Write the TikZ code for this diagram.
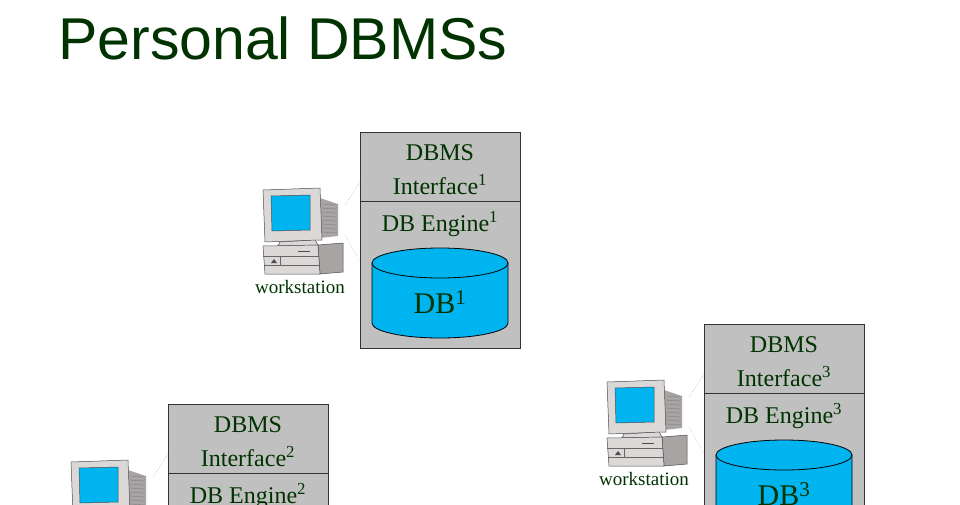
\documentclass[tikz,border=0pt]{standalone}
\usepackage{fontspec}
\setmainfont{Liberation Serif}
\newfontfamily\titlefont{Liberation Sans}
\definecolor{tgreen}{HTML}{003300}
\definecolor{boxgray}{HTML}{C0C0C0}
\definecolor{dbcyan}{HTML}{00B4F0}
\definecolor{pcbody}{HTML}{DCD8D8}
\definecolor{pcshade}{HTML}{A8A4A4}
\tikzset{
  box/.style={draw=black!80, fill=boxgray, line width=0.8pt},
  lbl/.style={text=tgreen, font=\fontsize{24}{26}\selectfont, inner sep=0pt},
  dblbl/.style={text=tgreen, font=\fontsize{30}{32}\selectfont, inner sep=0pt},
  wslbl/.style={text=tgreen, font=\fontsize{19}{21}\selectfont, inner sep=0pt},
  cyl/.style={draw=black, fill=dbcyan, line width=0.8pt},
  link/.style={draw=gray!70, dotted, line width=0.6pt},
  pc/.style={draw=black!70, line width=0.5pt, fill=pcbody},
}
\newcommand\mysite[3]{%
\begin{scope}[shift={(#2,#3)}]
  \node[box, minimum width=160pt, minimum height=216pt, anchor=north west, inner sep=0pt] (box#1) at (0,0) {};
  \draw[black!80, line width=0.8pt] (0,69) -- (160,69);
  \node[lbl] (dbms#1) at (80,21) {DBMS};
  \node[lbl] (intf#1) at (80,53) {Interface\textsuperscript{#1}};
  \node[lbl] (eng#1) at (80,92) {DB Engine\textsuperscript{#1}};
  \path[cyl] (148,131) -- (148,191) arc[start angle=0,end angle=-180,x radius=68pt,y radius=15pt] -- (12,131) -- cycle;
  \path[cyl] (80,131) ellipse [x radius=68pt, y radius=15pt];
  \node[dblbl] (db#1) at (80,170) {DB\textsuperscript{#1}};
  % workstation
  \fill[pcshade] (-40,66) -- (-22,72) -- (-22,104) -- (-40,106) -- cycle;
  \foreach \yy in {72,76,...,102} \draw[black!50, line width=0.4pt] (-38,\yy) -- (-23,\yy+1);
  \path[pc] (-97,58) -- (-40,56) -- (-38,108) -- (-95,110) -- cycle;
  \path[draw=black!70, fill=dbcyan, line width=0.5pt] (-89,64) -- (-50,63) -- (-50,98) -- (-88,99) -- cycle;
  \path[pc] (-80,110) -- (-45,108) -- (-42,113) -- (-82,114) -- cycle;
  \path[pc, fill=pcshade] (-42,113) -- (-17,111) -- (-17,140) -- (-40,142) -- cycle;
  \path[pc] (-97,114) -- (-42,113) -- (-40,142) -- (-95,142) -- cycle;
  \draw[black!60, line width=0.4pt] (-97,124) -- (-41,124) (-96,133) -- (-40,133) (-80,124) -- (-80,133);
  \fill[black!70] (-89,131) -- (-86,127) -- (-83,131) -- cycle;
  \draw[black!70, line width=0.8pt] (-62,119) -- (-50,119);
  \node[wslbl] (ws#1) at (-60,155) {workstation};
  \coordinate (wa#1) at (-15,73);
  \coordinate (wb#1) at (-15,103);
  \coordinate (ba#1) at (0,50);
  \coordinate (bb#1) at (0,130);
  \draw[link] (ba#1) -- (wa#1);
  \draw[link] (wb#1) -- (bb#1);
\end{scope}}
\begin{document}
\begin{tikzpicture}[x=1pt,y=-1pt]
\useasboundingbox (0,0) rectangle (960,504);
\fill[white] (0,0) rectangle (960,504);
\node[anchor=west, text=tgreen, font=\titlefont\fontsize{59}{61}\selectfont, inner sep=0pt] (title) at (58,38) {Personal DBMSs};
\mysite{1}{360}{132}
\mysite{2}{168}{404}
\mysite{3}{704}{324}
\end{tikzpicture}
\end{document}
